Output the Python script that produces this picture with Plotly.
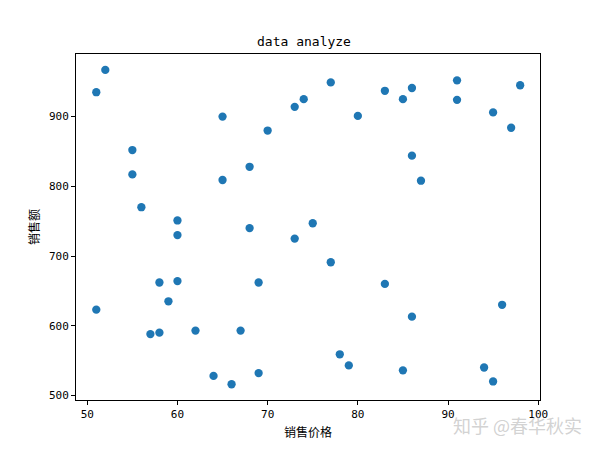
import plotly.graph_objects as go

price = [52, 51, 65, 70, 73, 74, 77, 80, 83, 85, 86, 91, 91, 95, 97, 98,
         55, 55, 65, 68, 86, 87, 56, 60, 60, 68, 75, 73, 77, 58, 60, 69,
         83, 59, 51, 96, 86, 57, 58, 62, 67, 78, 79, 85, 94, 95, 64, 69, 66]
sales = [967, 935, 900, 880, 914, 925, 949, 901, 937, 925, 941, 952, 924, 906, 884, 945,
         852, 817, 809, 828, 844, 808, 770, 751, 730, 740, 747, 725, 691, 662, 664, 662,
         660, 635, 623, 630, 613, 588, 590, 593, 593, 559, 543, 536, 540, 520, 528, 532, 516]

x_ticks = [50, 60, 70, 80, 90, 100]
y_ticks = [500, 600, 700, 800, 900]

font_fam = "DejaVu Sans Mono, Noto Sans CJK SC, sans-serif"

fig = go.Figure(go.Scatter(
    x=price, y=sales, mode="markers",
    marker=dict(color="#1f77b4", size=8.3, line=dict(width=0)),
))

axis_common = dict(
    showline=True, linecolor="black", linewidth=1, mirror=True,
    ticks="outside", ticklen=4, tickcolor="black", tickwidth=1,
    showgrid=False, zeroline=False, automargin=False,
    tickfont=dict(family=font_fam, size=11, color="black"),
)

W, H = 592, 442

fig.update_layout(
    width=W, height=H,
    margin=dict(l=68, r=60, t=46, b=50, autoexpand=False),
    paper_bgcolor="white", plot_bgcolor="white",
    showlegend=False,
    title=dict(text="data analyze", x=0.5, xanchor="center", y=1 - 33 / H, yanchor="middle",
               font=dict(family=font_fam, size=13, color="black"), automargin=False),
    xaxis=dict(range=[48.75, 100.2], tickvals=x_ticks, ticktext=[str(v) for v in x_ticks],
               title=dict(text="销售价格", font=dict(family="Noto Sans CJK SC", size=12, color="black"),
                          standoff=8),
               **axis_common),
    yaxis=dict(range=[493.4, 989.8], tickvals=y_ticks, ticktext=[str(v) for v in y_ticks],
               title=dict(text="销售额", font=dict(family="Noto Sans CJK SC", size=12, color="black"),
                          standoff=6),
               **axis_common),
    annotations=[dict(text="知乎 @春华秋实", xref="paper", yref="paper",
                      x=1 + 44 / 464, y=-25 / 346, xanchor="right", yanchor="middle",
                      showarrow=False,
                      font=dict(family="Noto Sans CJK SC", size=18, color="rgba(205,205,205,0.9)"))],
)

fig.write_html("out.html")
